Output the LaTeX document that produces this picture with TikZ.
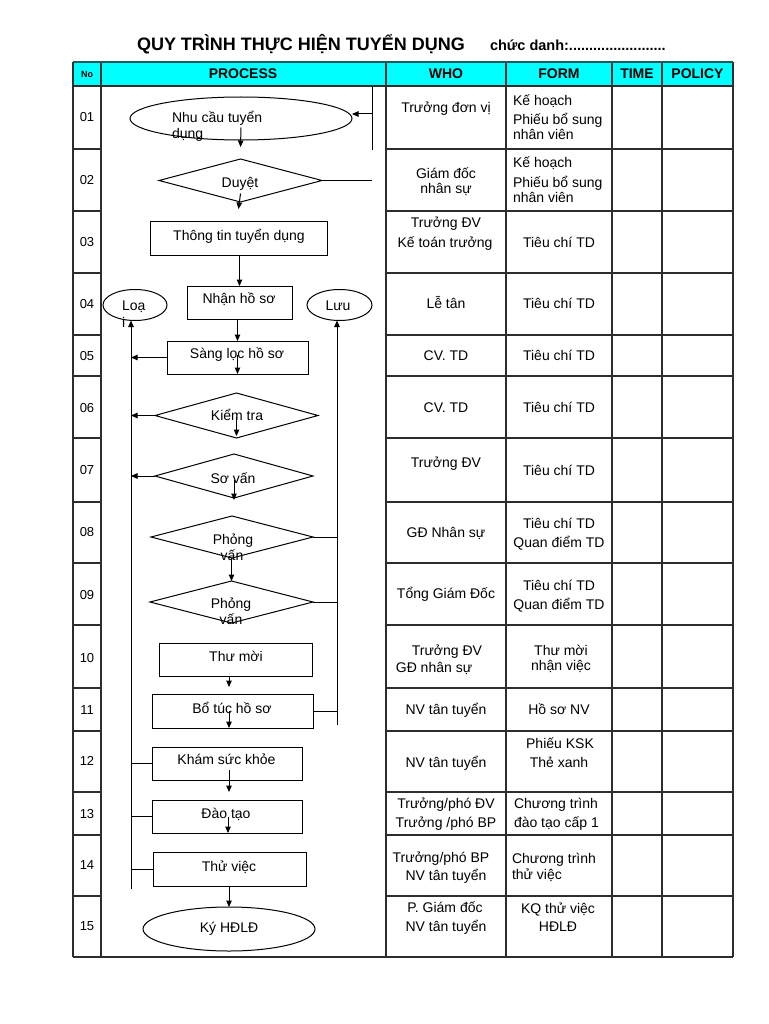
\documentclass[tikz,border=0pt]{standalone}
\usepackage{fontspec}
\setmainfont{Liberation Sans}
\usetikzlibrary{shapes.geometric,arrows.meta}
\definecolor{hdrcyan}{RGB}{0,255,255}
\definecolor{gridc}{RGB}{45,45,45}
\definecolor{hdrline}{RGB}{30,90,90}
\newcommand\mytxt[5][]{\node[txt,anchor=base,#1] (#2) at (#3,#4+5.2) {#5};}
\begin{document}
\begin{tikzpicture}[x=1pt,y=-1pt,
  every node/.style={inner sep=0pt,outer sep=0pt},
  txt/.style={font=\fontsize{14}{16}\selectfont},
  numtxt/.style={font=\fontsize{13}{14}\selectfont},
  hdr/.style={font=\fontsize{14}{16}\selectfont\bfseries},
  grid/.style={draw=gridc,line width=1.1pt},
  ln/.style={draw=black,line width=1pt},
  arr/.style={ln,-{Triangle[length=6.5pt,width=5.5pt]}},
  box/.style={draw=black,line width=1pt,rectangle},
  ell/.style={draw=black,line width=1pt,ellipse},
  dia/.style={draw=black,line width=1pt,diamond}]
\useasboundingbox (0,0) rectangle (768,1024);
\fill[white] (0,0) rectangle (768,1024);

% ---------- title ----------
\node[anchor=base west,font=\fontsize{18}{20}\selectfont\bfseries] (title) at (137,51) {QUY TRÌNH THỰC HIỆN TUYỂN DỤNG};
\node[anchor=base west,font=\fontsize{14.5}{16}\selectfont\bfseries] (cd) at (490,51) {chức danh:........................};

% ---------- table ----------
\fill[hdrcyan] (73,62) rectangle (733,86);
\draw[grid] (73,86) -- (733,86);
\draw[grid] (73,957) -- (733,957);
\foreach \yy in {149,211,273,335,376,438,502,563,625,688,731,792,835,896}{
  \draw[grid] (73,\yy) -- (101,\yy);
  \draw[grid] (386,\yy) -- (733,\yy);
}
\foreach \xx in {73,101,386,506,612,662,733}{
  \draw[grid] (\xx,62) -- (\xx,957);
}
\draw[draw=hdrline,line width=1.3pt] (73,62) -- (733,62);

\node[font=\fontsize{9}{10}\selectfont\bfseries] (hno) at (87,74) {No};
\node[hdr] (hproc) at (243,74) {PROCESS};
\node[hdr] (hwho) at (446,74) {WHO};
\node[hdr] (hform) at (559,74) {FORM};
\node[hdr] (htime) at (637,74) {TIME};
\node[hdr] (hpol) at (697.5,74) {POLICY};

% row numbers
\mytxt[numtxt]{n01}{87}{116}{01}
\mytxt[numtxt]{n02}{87}{179}{02}
\mytxt[numtxt]{n03}{87}{241}{03}
\mytxt[numtxt]{n04}{87}{303}{04}
\mytxt[numtxt]{n05}{87}{355}{05}
\mytxt[numtxt]{n06}{87}{407}{06}
\mytxt[numtxt]{n07}{87}{469}{07}
\mytxt[numtxt]{n08}{87}{531}{08}
\mytxt[numtxt]{n09}{87}{594}{09}
\mytxt[numtxt]{n10}{87}{657}{10}
\mytxt[numtxt]{n11}{87}{709}{11}
\mytxt[numtxt]{n12}{87}{760}{12}
\mytxt[numtxt]{n13}{87}{813}{13}
\mytxt[numtxt]{n14}{87}{864}{14}
\mytxt[numtxt]{n15}{87}{925}{15}

% WHO column
\mytxt{w01}{446}{107}{Trưởng đơn vị}
\mytxt{w02a}{446}{173}{Giám đốc}
\mytxt{w02b}{446}{188}{nhân sự}
\mytxt{w03a}{446}{222}{Trưởng ĐV}
\mytxt{w03b}{445}{242}{Kế toán trưởng}
\mytxt{w04}{446}{303}{Lễ tân}
\mytxt{w05}{446}{355}{CV. TD}
\mytxt{w06}{446}{407}{CV. TD}
\mytxt{w07}{446}{462}{Trưởng ĐV}
\mytxt{w08}{446}{532}{GĐ Nhân sự}
\mytxt{w09}{446}{593}{Tổng Giám Đốc}
\mytxt{w10a}{447}{650}{Trưởng ĐV}
\mytxt{w10b}{434}{667}{GĐ nhân sự}
\mytxt{w11}{446}{709}{NV tân tuyển}
\mytxt{w12}{446}{762}{NV tân tuyển}
\mytxt{w13a}{446}{803}{Trưởng/phó ĐV}
\mytxt{w13b}{446}{822}{Trưởng /phó BP}
\mytxt{w14a}{441}{857}{Trưởng/phó BP}
\mytxt{w14b}{446}{875}{NV tân tuyển}
\mytxt{w15a}{445}{907}{P. Giám đốc}
\mytxt{w15b}{446}{926}{NV tân tuyển}

% FORM column
\mytxt[anchor=base west]{f01a}{513}{100}{Kế hoạch}
\mytxt[anchor=base west]{f01b}{513}{119}{Phiếu bổ sung}
\mytxt[anchor=base west]{f01c}{513}{134}{nhân viên}
\mytxt[anchor=base west]{f02a}{513}{162}{Kế hoạch}
\mytxt[anchor=base west]{f02b}{513}{182}{Phiếu bổ sung}
\mytxt[anchor=base west]{f02c}{513}{197}{nhân viên}
\mytxt{f03}{559}{242}{Tiêu chí TD}
\mytxt{f04}{559}{303}{Tiêu chí TD}
\mytxt{f05}{559}{355}{Tiêu chí TD}
\mytxt{f06}{559}{407}{Tiêu chí TD}
\mytxt{f07}{559}{470}{Tiêu chí TD}
\mytxt{f08a}{559}{523}{Tiêu chí TD}
\mytxt{f08b}{559}{542}{Quan điểm TD}
\mytxt{f09a}{559}{585}{Tiêu chí TD}
\mytxt{f09b}{559}{604}{Quan điểm TD}
\mytxt{f10a}{561}{650}{Thư mời}
\mytxt{f10b}{561}{665}{nhận việc}
\mytxt{f11}{559}{709}{Hồ sơ NV}
\mytxt{f12a}{560}{743}{Phiếu KSK}
\mytxt{f12b}{559}{762}{Thẻ xanh}
\mytxt[anchor=base west]{f13a}{514}{803}{Chương trình}
\mytxt[anchor=base west]{f13b}{514}{822}{đào tạo cấp 1}
\mytxt[anchor=base west]{f14a}{512}{858}{Chương trình}
\mytxt[anchor=base west]{f14b}{512}{874}{thử việc}
\mytxt{f15a}{558}{908}{KQ thử việc}
\mytxt{f15b}{558}{926}{HĐLĐ}

% ---------- process flow shapes ----------
\node[ell,minimum width=222pt,minimum height=43pt] (e1) at (241,118.5) {};
\mytxt[anchor=base west]{t1a}{172}{117}{Nhu cầu tuyển}
\mytxt[anchor=base west]{t1b}{172}{133}{dụng}

\node[dia,minimum width=163pt,minimum height=43pt] (d2) at (240.5,180.5) {};
\mytxt{t2}{240}{182}{Duyệt}

\node[box,minimum width=177pt,minimum height=33pt] (r3) at (238.5,238.5) {};
\mytxt{t3}{239}{235}{Thông tin tuyển dụng}

\node[box,minimum width=105pt,minimum height=33pt] (r4) at (239.5,302.5) {};
\mytxt{t4}{239}{298}{Nhận hồ sơ}

\node[ell,minimum width=64pt,minimum height=31pt] (lo) at (135,305) {};
\mytxt[anchor=base west]{tloa}{122}{305}{Loạ}
\mytxt[anchor=base west]{tlob}{122}{322}{i}

\node[ell,minimum width=65pt,minimum height=31pt] (lu) at (339.5,305) {};
\mytxt{tlu}{338}{305}{Lưu}

\node[box,minimum width=141pt,minimum height=33pt] (r5) at (237.5,357.5) {};
\mytxt{t5}{237}{353}{Sàng lọc hồ sơ}

\node[dia,minimum width=163pt,minimum height=45pt] (d6) at (236.5,415.5) {};
\mytxt{t6}{237}{415}{Kiểm tra}

\node[dia,minimum width=158pt,minimum height=44pt] (d7) at (234,476) {};
\mytxt{t7}{233}{478}{Sơ vấn}

\node[dia,minimum width=162pt,minimum height=42pt] (d8) at (232,537) {};
\mytxt{t8a}{233}{539}{Phỏng}
\mytxt{t8b}{232}{555}{vấn}

\node[dia,minimum width=163pt,minimum height=42pt] (d9) at (231.5,602) {};
\mytxt{t9a}{231}{603}{Phỏng}
\mytxt{t9b}{231}{619}{vấn}

\node[box,minimum width=153pt,minimum height=33pt] (r10) at (235.5,659.5) {};
\mytxt{t10}{236}{656}{Thư mời}

\node[box,minimum width=161pt,minimum height=34pt] (r11) at (232.5,711) {};
\mytxt{t11}{232}{708}{Bổ túc hồ sơ}

\node[box,minimum width=150pt,minimum height=33pt] (r12) at (227,763.5) {};
\mytxt{t12}{226.5}{759}{Khám sức khỏe}

\node[box,minimum width=150pt,minimum height=33pt] (r13) at (227,816.5) {};
\mytxt{t13}{226}{813}{Đào tạo}

\node[box,minimum width=153pt,minimum height=34pt] (r14) at (229.5,869) {};
\mytxt{t14}{229}{866}{Thử việc}

\node[ell,minimum width=172pt,minimum height=44pt] (e15) at (229,929) {};
\mytxt{t15}{229}{927}{Ký HĐLĐ}

% ---------- connectors ----------
\coordinate (p1t) at (372,87);
\coordinate (p1b) at (372,150);
\coordinate (p1m) at (372,114);
\coordinate (Lb) at (131,889);
\coordinate (Rb) at (337,725);
\coordinate (c10) at (229,687);

\draw[ln] (p1t) -- (p1b);
\draw[arr] (p1m) -- (p1m -| e1.east);
\draw[ln] (d2.east) -- (d2.east -| p1b);

\draw[arr] ([yshift=-9pt]e1.center) -- ([yshift=12pt]d2.north);
\draw[arr] ([yshift=-13pt]d2.center) -- ([yshift=13pt]r3.north);
\draw[arr] (r4.north |- r3.south) -- (r4.north);
\draw[arr] (r5.north |- r4.south) -- (r5.north);
\draw[arr] ([yshift=2.5pt]r5.center) -- (r5.south);

\draw[arr] (Lb) -- (Lb |- lo.south);
\draw[arr] (Rb) -- (Rb |- lu.south);

\draw[arr] (r5.west) -- (r5.west -| Lb);
\draw[arr] (d6.west) -- (d6.west -| Lb);
\draw[arr] ([yshift=-1.5pt]d6.center) -- ([yshift=2pt]d6.south);
\draw[arr] (d7.west) -- (d7.west -| Lb);
\draw[arr] ([yshift=-4pt]d7.center) -- ([yshift=-2pt]d7.south);

\draw[ln] (d8.east) -- (d8.east -| Rb);
\draw[arr] (d9.north |- d8.south) -- (d9.north);
\draw[ln] (d9.east) -- (d9.east -| Rb);

\draw[arr] ([xshift=-6.5pt]r10.south) -- (c10);
\draw[ln] (r11.east) -- (r11.east -| Rb);
\draw[arr] ([xshift=-3.5pt]r11.center) -- ([xshift=-3.5pt]r11.south);

\draw[ln] (r12.west) -- (r12.west -| Lb);
\draw[arr] ([xshift=2pt,yshift=-6.5pt]r12.center) -- ([xshift=2pt,yshift=8pt]r13.north);
\draw[ln] (r13.west) -- (r13.west -| Lb);
\draw[arr] ([xshift=1pt]r13.center) -- ([xshift=1pt]r13.south);
\draw[ln] (r14.west) -- (r14.west -| Lb);
\draw[arr] (e15.north |- r14.south) -- (e15.north);
\end{tikzpicture}
\end{document}
